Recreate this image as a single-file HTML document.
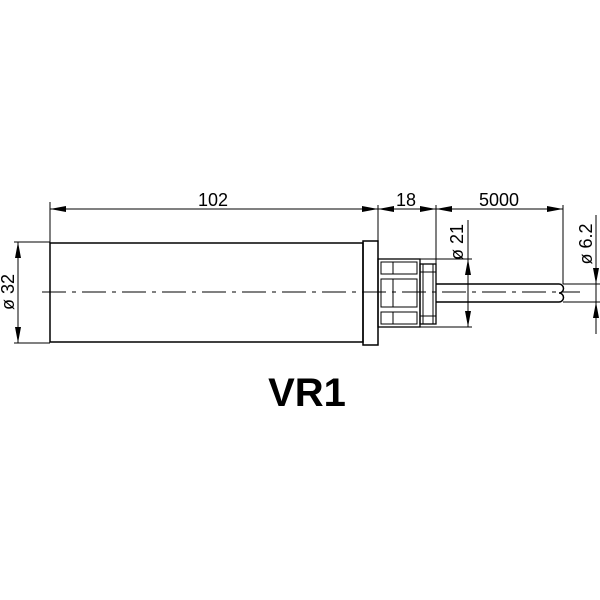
<!DOCTYPE html><html><head><style>body{margin:0;background:#fff}svg{display:block}</style></head><body>
<svg width="600" height="600" viewBox="0 0 600 600" xmlns="http://www.w3.org/2000/svg" font-family="Liberation Sans, sans-serif">
<g stroke="#000" fill="none" stroke-width="1">
<rect x="50" y="243" width="313" height="99" stroke-width="1.5"/>
<rect x="363" y="241" width="15" height="104" stroke-width="1.5"/>
<rect x="378" y="259" width="42" height="68" stroke-width="1.3"/>
<rect x="381" y="262" width="36" height="12"/><line x1="393" y1="262" x2="393" y2="274"/>
<rect x="381" y="279" width="36" height="28"/><line x1="393" y1="279" x2="393" y2="307"/>
<rect x="381" y="312" width="36" height="12"/><line x1="393" y1="312" x2="393" y2="324"/>
<rect x="420" y="264" width="16" height="60" stroke-width="1.3"/>
<line x1="423" y1="264" x2="423" y2="324"/><line x1="433" y1="264" x2="433" y2="324"/>
<line x1="420" y1="272" x2="436" y2="272"/><line x1="420" y1="316" x2="436" y2="316"/>
<path d="M436 284 H559 a4 4 0 0 1 0 9 a4 4 0 0 1 0 9 H436" stroke-width="1.5"/>
<line x1="42" y1="292" x2="580" y2="292" stroke-dasharray="24,6,4,6"/>
<line x1="50" y1="202" x2="50" y2="243"/><line x1="378" y1="205" x2="378" y2="259"/>
<line x1="436" y1="205" x2="436" y2="264"/><line x1="563" y1="205" x2="563" y2="284"/>
<line x1="50" y1="209" x2="563" y2="209"/>
<line x1="14" y1="242" x2="50" y2="242"/><line x1="14" y1="343" x2="50" y2="343"/>
<line x1="18" y1="242" x2="18" y2="343"/>
<line x1="420" y1="259" x2="472" y2="259"/><line x1="420" y1="327" x2="472" y2="327"/>
<line x1="468" y1="220" x2="468" y2="327"/>
<line x1="563" y1="284" x2="600" y2="284"/><line x1="563" y1="302" x2="600" y2="302"/>
<line x1="596" y1="215" x2="596" y2="334"/>
</g>
<g fill="#000">
<polygon points="50,209 66,206 66,212"/><polygon points="378,209 362,206 362,212"/>
<polygon points="378,209 394,206 394,212"/><polygon points="436,209 420,206 420,212"/>
<polygon points="436,209 452,206 452,212"/><polygon points="563,209 547,206 547,212"/>
<polygon points="18,242 15,258 21,258"/><polygon points="18,343 15,327 21,327"/>
<polygon points="468,259 465,275 471,275"/><polygon points="468,327 465,311 471,311"/>
<polygon points="596,284 593,268 599,268"/><polygon points="596,302 593,318 599,318"/>
</g>
<g font-size="18" fill="#000">
<text x="213" y="206" text-anchor="middle">102</text>
<text x="406" y="206" text-anchor="middle">18</text>
<text x="499" y="206" text-anchor="middle">5000</text>
<text transform="translate(14,292) rotate(-90)" text-anchor="middle">ø 32</text>
<text transform="translate(463,242) rotate(-90)" text-anchor="middle">ø 21</text>
<text transform="translate(592,244) rotate(-90)" text-anchor="middle">ø 6.2</text>
</g>
<text x="307" y="406" font-size="40" font-weight="bold" text-anchor="middle">VR1</text>
</svg></body></html>
